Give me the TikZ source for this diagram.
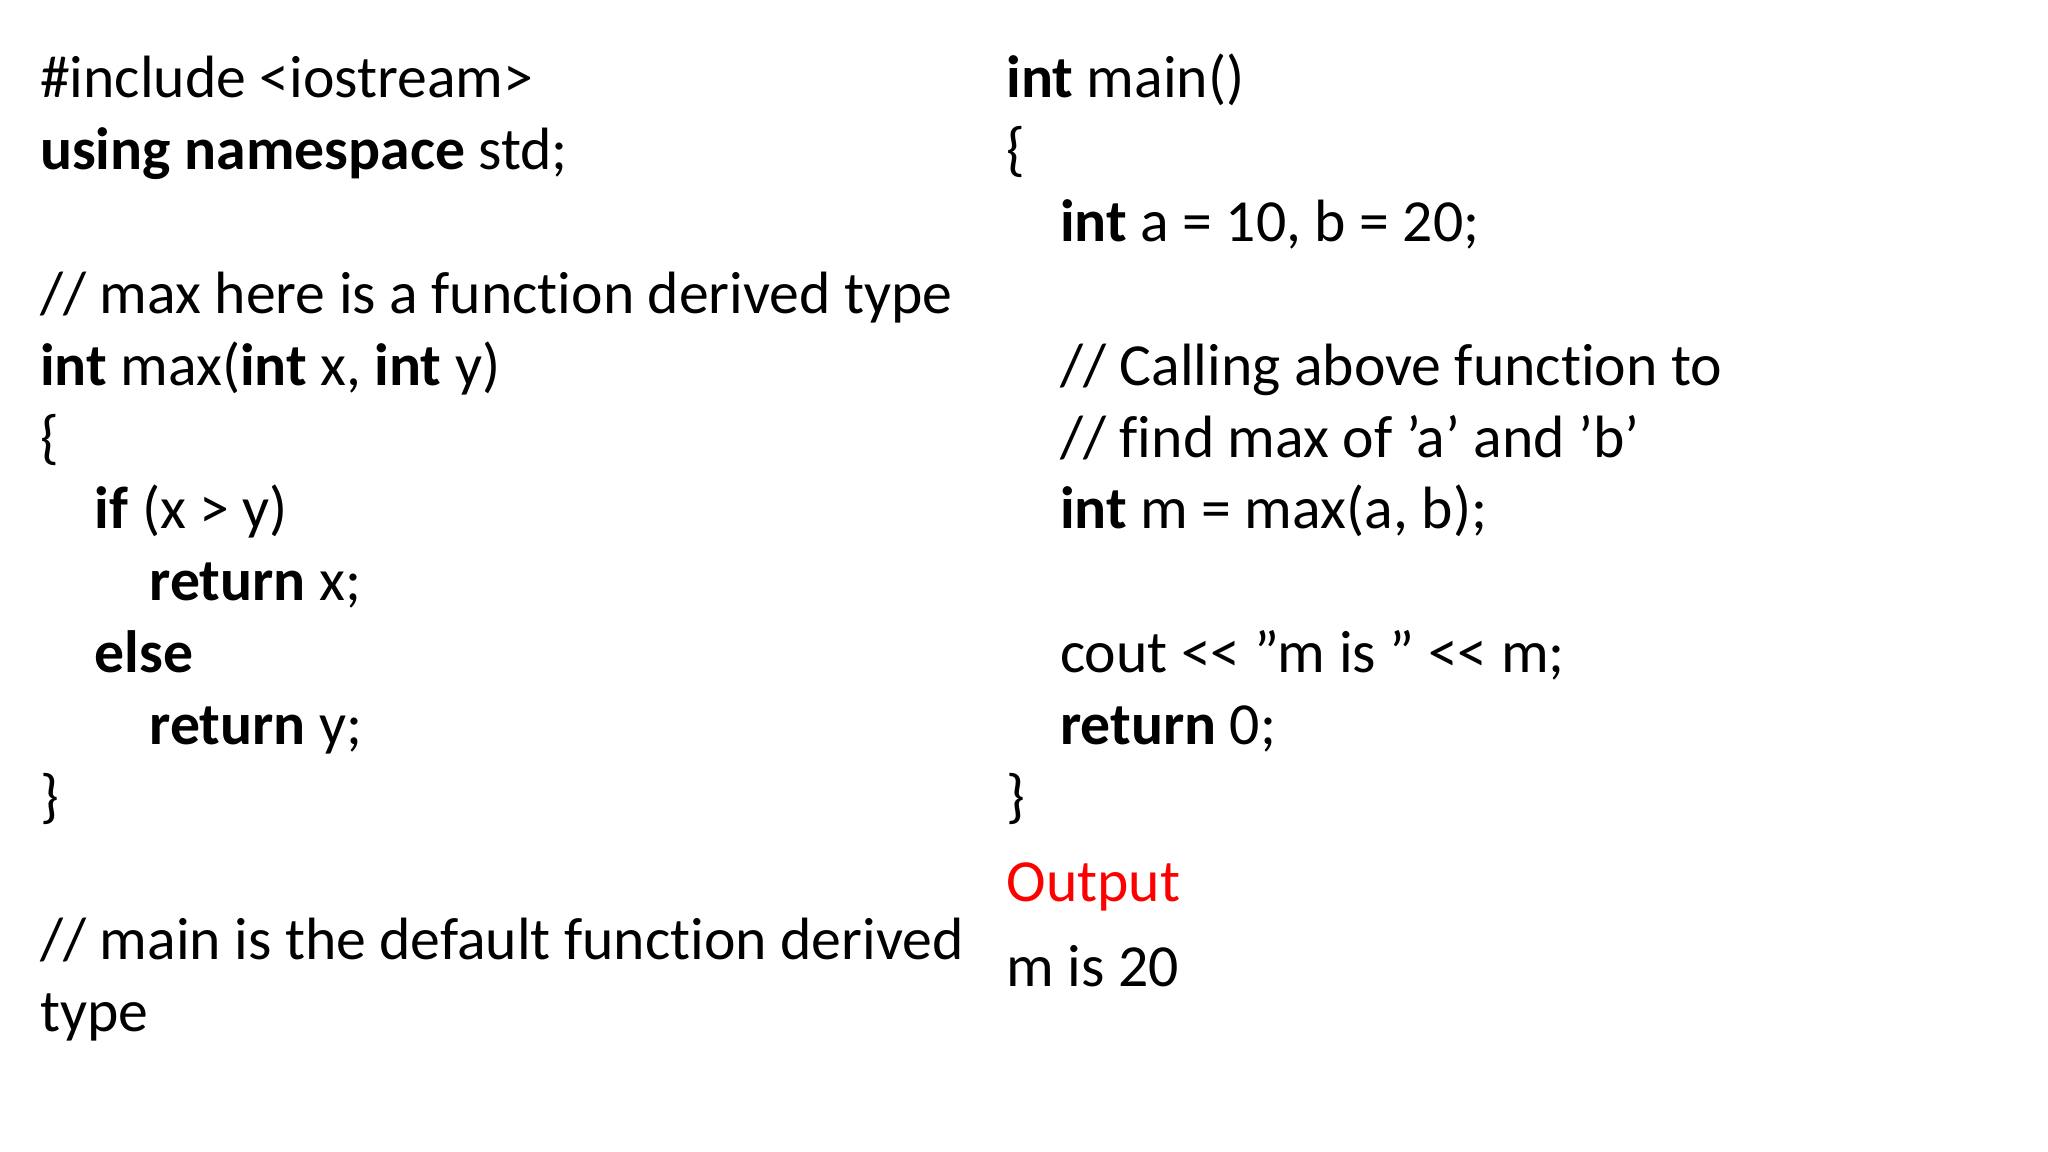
\documentclass[tikz,border=0pt]{standalone}
\usepackage{fontspec}
\setmainfont{Carlito}[Ligatures=NoCommon]
\newcommand{\sq}{\char"0027\relax}
\newcommand{\dq}{\char"0022\relax}
\begin{document}
\begin{tikzpicture}[x=0.01cm,y=-0.01cm,
  code/.style={anchor=base west,inner sep=0pt,font=\fontsize{13}{15}\selectfont}]
\useasboundingbox (0,0) rectangle (1568,882);
\node[code] (l1) at (30,75) {\#include <iostream>};
\node[code] (l2) at (30,130) {\textbf{using namespace} std;};
\node[code] (l3) at (30,240) {// max here is a function derived type};
\node[code] (l4) at (30,295) {\textbf{int} max(\textbf{int} x, \textbf{int} y)};
\node[code] (l5) at (30,350) {\{};
\node[code] (l6) at (72,405) {\textbf{if} (x > y)};
\node[code] (l7) at (114,460) {\textbf{return} x;};
\node[code] (l8) at (72,515) {\textbf{else}};
\node[code] (l9) at (114,570) {\textbf{return} y;};
\node[code] (l10) at (30,625) {\}};
\node[code] (l11) at (30,735) {// main is the default function derived};
\node[code] (l12) at (30,790) {type};
\node[code] (r1) at (770,75) {\textbf{int} main()};
\node[code] (r2) at (770,130) {\{};
\node[code] (r3) at (811,185) {\textbf{int} a = 10, b = 20;};
\node[code] (r4) at (811,295) {// Calling above function to};
\node[code] (r5) at (811,350) {// find max of \sq a\sq{} and \sq b\sq};
\node[code] (r6) at (811,405) {\textbf{int} m = max(a, b);};
\node[code] (r7) at (811,515) {cout <{}< \dq m is \dq{} <{}< m;};
\node[code] (r8) at (811,570) {\textbf{return} 0;};
\node[code] (r9) at (770,625) {\}};
\node[code,text=red] (r10) at (770,690) {Output};
\node[code] (r11) at (770,755) {m is 20};
\end{tikzpicture}
\end{document}
